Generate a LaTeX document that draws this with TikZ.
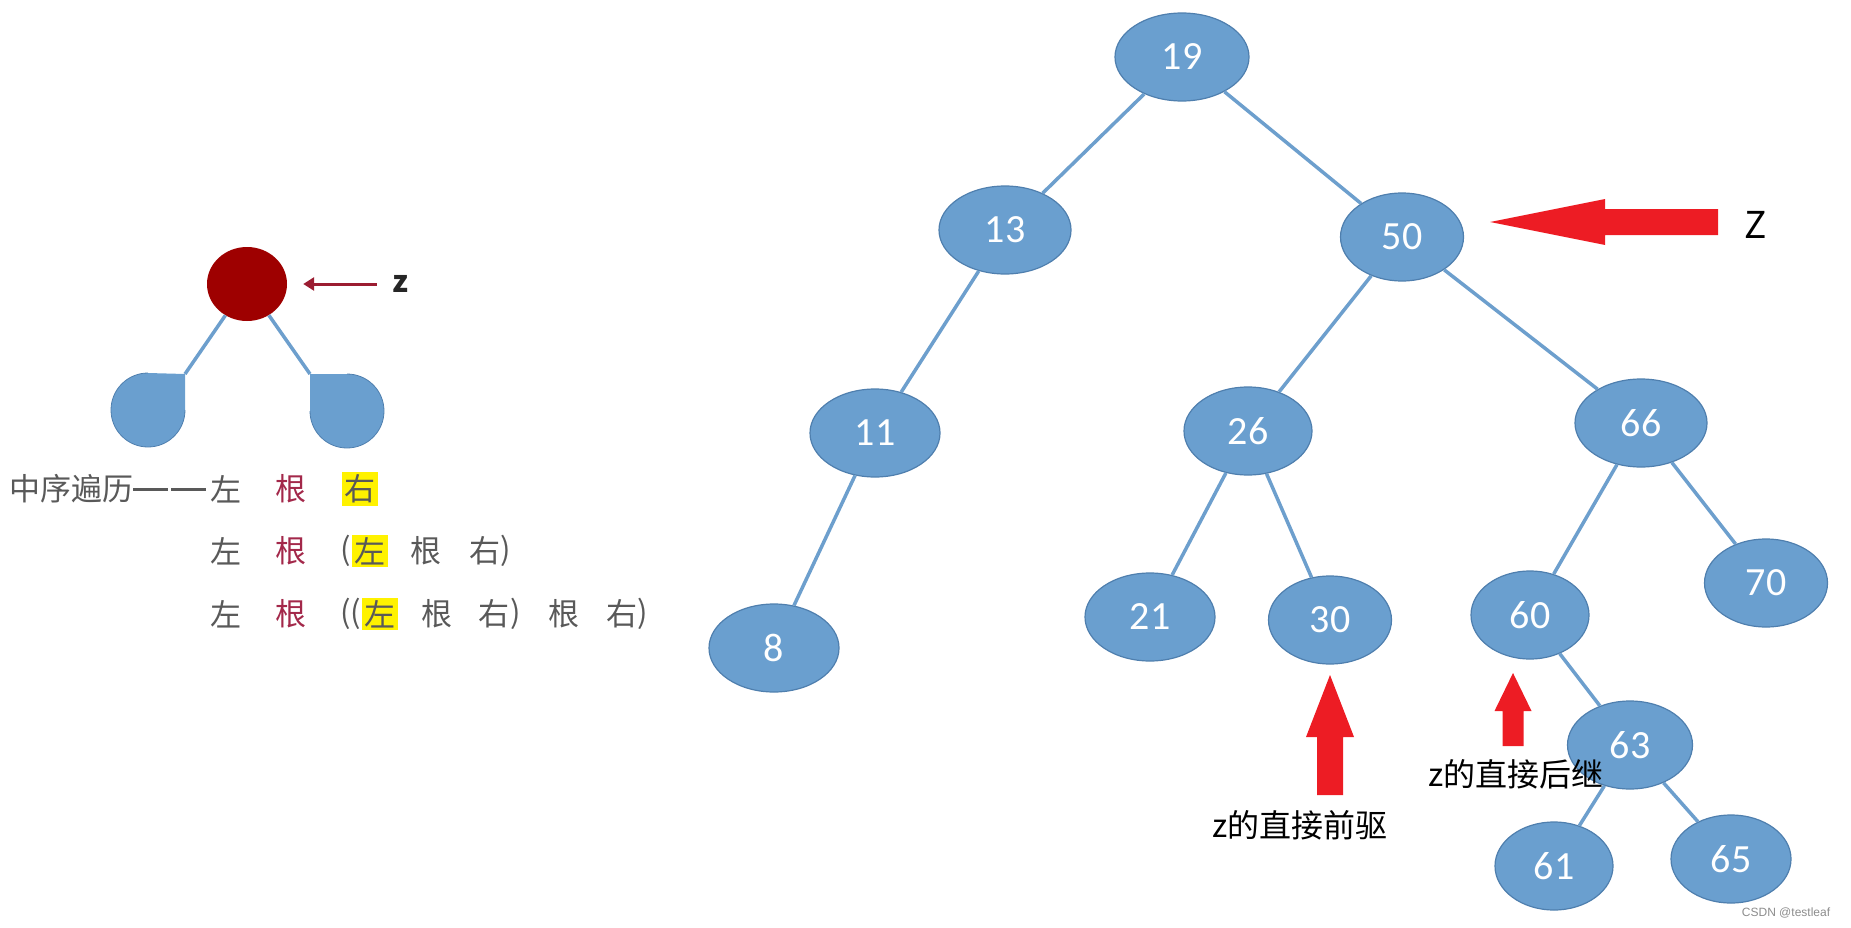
\documentclass[tikz,border=0pt]{standalone}
\usepackage{fontspec}
\usepackage{xcolor}
\usepackage{tikz}
\usetikzlibrary{arrows.meta,positioning,calc,shapes.geometric}
\newfontfamily\cjk{Noto Sans CJK SC}
\newfontfamily\num{Carlito}
\newfontfamily\wm{Liberation Sans}
\definecolor{nodefill}{HTML}{6A9FCF}
\definecolor{nodeline}{HTML}{4F7FAE}
\definecolor{edgecol}{HTML}{6D9FCD}
\definecolor{rootred}{HTML}{9E0000}
\definecolor{zarrcol}{HTML}{9B1C31}
\definecolor{gencol}{HTML}{A3284A}
\definecolor{txtgray}{HTML}{595959}
\definecolor{bigred}{HTML}{ED1C24}

\begin{document}
\begin{tikzpicture}[x=1pt, y=-1pt, >=Stealth,
  nd/.style={ellipse,draw=nodeline,line width=1.2pt,fill=nodefill,text=white,inner sep=0pt,
    minimum height=88pt,font=\num\fontsize{40}{40}\selectfont},
  ed/.style={edgecol,line width=3.5pt},
  tx/.style={anchor=west,inner sep=0pt,text=txtgray,font=\cjk\fontsize{31}{31}\selectfont},
  gen/.style={text=gencol},
  hl/.style={fill=yellow,inner sep=2.5pt},
  lbl/.style={inner sep=0pt,text=black,font=\cjk\fontsize{32}{32}\selectfont}]
  \useasboundingbox (0,0) rectangle (1851,928);
  % small tree on the left
  \node[ellipse,fill=rootred,minimum width=80pt,minimum height=74pt,inner sep=0pt] (zr) at (247,284) {};
  \coordinate (lc) at (185,374);
  \coordinate (rc) at (310,374);
  \fill[nodefill] (lc) -- (185,410) arc[start angle=0,end angle=270,radius=37] -- cycle;
  \draw[nodeline,line width=0.8pt] (185,410) arc[start angle=0,end angle=270,radius=37];
  \fill[nodefill] (rc) -- (347,374) arc[start angle=270,end angle=540,radius=37] -- cycle;
  \draw[nodeline,line width=0.8pt] (347,374) arc[start angle=270,end angle=540,radius=37];
  \draw[ed] (zr) -- (lc);
  \draw[ed] (zr) -- (rc);
  \node[inner sep=0pt,font=\cjk\bfseries\fontsize{30}{30}\selectfont,text=black!85] (zl) at (400,284) {z};
  \draw[zarrcol,line width=3pt,-{Triangle[length=11pt,width=13pt]}] ([xshift=-15pt]zl.west) -- ([xshift=16pt]zr.east);
  % inorder text
  \node[tx] (t0) at (9,489) {中序遍历\rule[0.33em]{35pt}{3pt}\hspace{3pt}\rule[0.33em]{35pt}{3pt}};
  \foreach \x/\c/\s [count=\k] in {210/左/, 275/根/gen, 342/右/hl} {
    \node[tx,\s] (a\k) at (\x,489) {\c};
  }
  \foreach \x/\c/\s [count=\k] in {210/左/, 275/根/gen, 340/(/, 352/左/hl, 410/根/, 469/右/, 500/)/} {
    \node[tx,\s] (b\k) at (\x,551) {\c};
  }
  \foreach \x/\c/\s [count=\k] in {210/左/, 275/根/gen, 340/((/, 362/左/hl, 421/根/, 478/右/, 510/)/, 548/根/, 606/右/, 637/)/} {
    \node[tx,\s] (c\k) at (\x,614) {\c};
  }
  % search tree
  \foreach \n/\x/\y/\w in {19/1182/57/134, 13/1005/230/132, 50/1402/237/123, 11/875/433/130,
      26/1248/431/128, 66/1641/423/132, 8/774/648/130, 21/1150/617/130, 30/1330/620/123,
      60/1530/615/118, 70/1766/583/123, 63/1630/745/125, 61/1554/866/118, 65/1731/859/120} {
    \node[nd,minimum width=\w pt] (n\n) at (\x,\y) {\n};
  }
  \foreach \a/\b in {19/13, 19/50, 13/11, 11/8, 50/26, 50/66, 26/21, 26/30, 66/60, 66/70, 60/63, 63/61, 63/65} {
    \draw[ed] (n\a) -- (n\b);
  }
  % red pointers
  \coordinate (zt) at (1490,222);
  \fill[bigred] (zt) -- ++(115,-23) -- ++(0,10) -- ++(113,0) -- ++(0,26) -- ++(-113,0) -- ++(0,10) -- cycle;
  \node[inner sep=0pt,font=\cjk\fontsize{37}{37}\selectfont] (zz) at (1756,225) {Z};
  \coordinate (pt) at (1330,675);
  \fill[bigred] (pt) -- ++(24,62) -- ++(-11,0) -- ++(0,58) -- ++(-26,0) -- ++(0,-58) -- ++(-11,0) -- cycle;
  \coordinate (st) at (1513,673);
  \fill[bigred] (st) -- ++(18.5,38) -- ++(-8,0) -- ++(0,35) -- ++(-21,0) -- ++(0,-35) -- ++(-8,0) -- cycle;
  \node[lbl] (pred) at (1300,825) {z的直接前驱};
  \node[lbl] (succ) at (1516,774) {z的直接后继};
  \node[inner sep=0pt,text=black!45,font=\wm\fontsize{12}{12}\selectfont] (mark) at (1786,913) {CSDN @testleaf};
\end{tikzpicture}
\end{document}
